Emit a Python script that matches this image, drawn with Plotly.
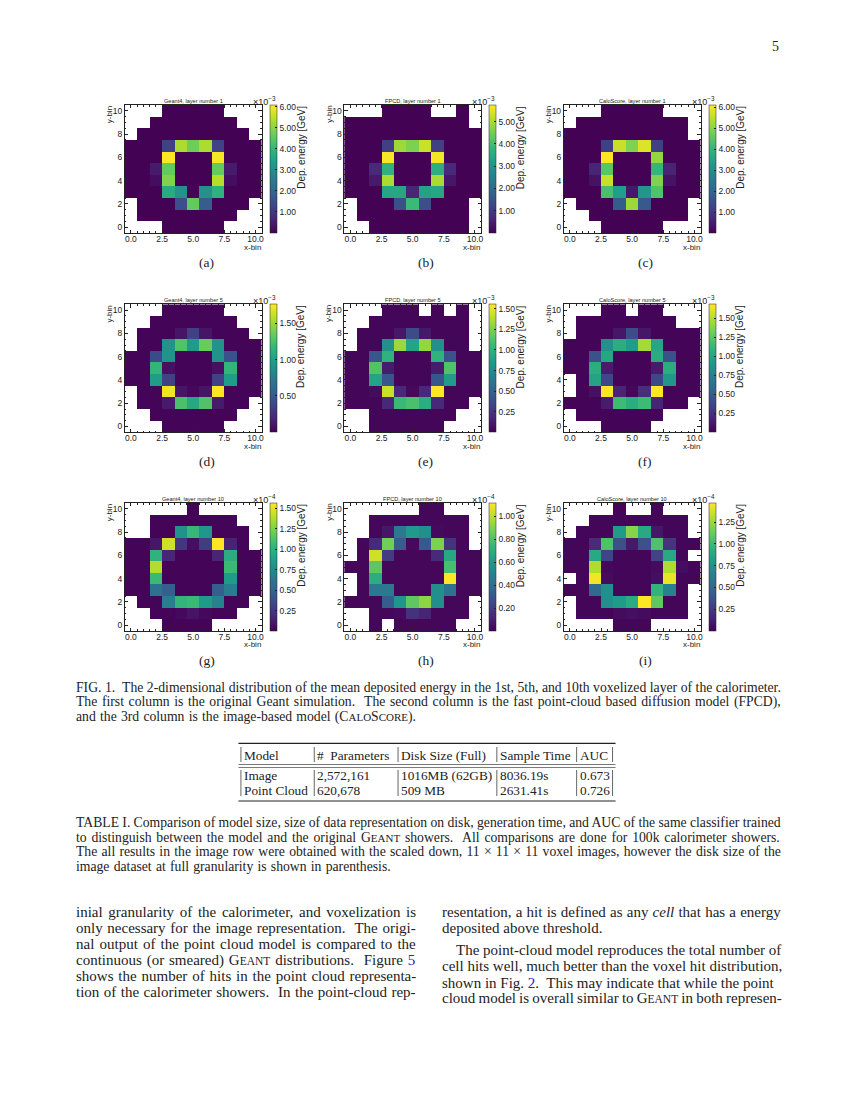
import plotly.graph_objects as go

WIDTH = 850
HEIGHT = 1100
n = None
d = 0.02

X_BINS = list(range(11))
Y_BINS = list(range(10, -1, -1))

# values are in units of the multiplier printed on top of each colour bar, rows go y=10 .. y=0
GEANT_1 = [
    [n, n, n, d, d, d, d, d, n, n, n],
    [n, n, d, d, d, d, d, d, d, n, n],
    [n, d, d, d, d, d, d, d, d, d, n],
    [d, d, d, 1.2, 5.3, 4.7, 5.3, 1.2, d, d, d],
    [d, d, d, 6.08, d, d, d, 6.0, d, d, d],
    [d, d, 0.45, 4.6, d, d, d, 4.6, 0.45, d, d],
    [d, d, 0.2, 4.9, d, d, d, 5.4, 0.2, d, d],
    [d, d, d, 3.7, 3.1, 0.05, 3.1, 3.9, d, d, d],
    [n, d, d, d, 1.5, 4.6, 1.8, d, d, d, n],
    [n, d, d, d, d, d, d, d, d, n, n],
    [n, n, n, d, d, d, d, d, n, n, n],
]
FPCD_1 = [
    [n, n, n, d, d, d, d, n, n, d, n],
    [d, d, d, d, d, d, d, d, d, d, n],
    [d, d, d, d, d, d, d, d, d, d, d],
    [d, d, d, 1.1, 4.9, 4.6, 5.3, 1.1, d, d, d],
    [d, d, d, 5.7, d, d, d, 5.65, d, d, d],
    [d, d, 0.7, 3.7, d, d, d, 3.6, 0.7, d, d],
    [d, d, 0.4, 5.0, d, d, d, 5.0, 0.35, d, d],
    [d, d, d, 3.4, 3.4, 0.6, 3.3, 3.4, d, d, d],
    [n, d, d, d, 1.4, 3.9, 1.4, d, d, d, n],
    [n, d, d, d, d, d, d, d, d, d, n],
    [n, n, d, d, d, d, d, d, d, d, n],
]
CALO_1 = [
    [n, n, n, d, d, d, d, d, n, n, n],
    [n, d, d, d, d, d, d, d, d, d, n],
    [d, d, d, d, d, d, d, d, d, d, n],
    [d, d, d, 1.2, 5.6, 4.9, 5.8, 1.2, d, d, d],
    [d, d, d, 6.1, d, d, d, 5.1, d, d, d],
    [d, d, 0.6, 4.5, d, d, d, 4.0, 0.6, d, d],
    [d, d, 0.3, 5.6, d, d, d, 4.9, 0.3, d, d],
    [d, d, d, 4.3, 3.4, 0.4, 3.2, 4.4, d, d, d],
    [n, d, d, d, 1.8, 5.2, 1.7, d, d, d, n],
    [n, n, d, d, d, d, d, d, d, d, n],
    [n, n, n, d, d, d, d, d, n, n, n],
]
GEANT_5 = [
    [n, n, n, d, d, d, d, d, n, n, n],
    [n, n, d, d, d, d, d, d, d, n, n],
    [n, d, d, d, 0.1, 0.35, 0.1, d, d, d, n],
    [n, d, d, 0.9, 1.27, 0.95, 1.35, 0.9, d, d, d],
    [d, d, 0.4, 0.9, d, d, d, 0.9, 0.45, d, d],
    [d, d, 1.15, 0.08, d, d, d, 0.08, 1.15, d, d],
    [d, d, 0.97, 0.35, d, d, d, 0.35, 0.97, d, d],
    [n, d, d, 1.72, 0.1, 0.04, 0.1, 1.76, d, d, d],
    [n, d, d, 0.13, 1.25, 1.05, 1.27, 0.13, d, d, n],
    [n, n, d, d, d, d, d, d, d, n, n],
    [n, n, n, d, d, d, d, d, n, n, n],
]
FPCD_5 = [
    [n, n, n, d, d, d, n, d, n, d, n],
    [n, n, d, d, d, d, d, d, d, d, n],
    [n, d, d, d, 0.1, 0.35, 0.1, d, d, d, n],
    [n, d, d, 0.78, 1.32, 0.9, 1.3, 0.78, d, d, n],
    [d, d, 0.42, 1.0, d, d, d, 1.0, 0.4, d, d],
    [d, d, 1.12, 0.12, d, d, d, 0.12, 1.12, d, d],
    [d, d, 0.9, 0.42, d, d, d, 0.42, 0.85, d, d],
    [d, d, 0.05, 1.43, 0.18, 0.03, 0.18, 1.55, d, d, d],
    [d, d, d, 0.18, 1.05, 1.1, 0.97, 0.18, d, d, n],
    [n, n, d, d, d, d, d, d, d, n, n],
    [n, n, d, d, d, d, d, d, n, n, n],
]
CALO_5 = [
    [n, n, n, d, d, n, d, d, n, n, n],
    [n, d, d, d, d, d, d, d, d, n, n],
    [n, d, d, d, 0.1, 0.4, 0.1, d, d, d, d],
    [d, d, d, 0.85, 1.05, 0.93, 1.45, 1.0, d, d, d],
    [d, d, 0.42, 1.0, d, d, d, 1.05, 0.42, d, d],
    [d, d, 1.05, 0.13, d, d, d, 0.13, 1.05, d, d],
    [n, d, 0.98, 0.37, d, d, d, 0.37, 0.88, d, d],
    [n, d, 0.07, 1.68, 0.17, 0.03, 0.22, 1.68, d, d, d],
    [d, d, d, 0.13, 1.15, 1.05, 1.15, 0.17, d, d, n],
    [n, d, d, d, d, d, d, d, n, n, n],
    [n, n, n, d, d, d, d, n, n, n, n],
]
GEANT_10 = [
    [n, n, n, n, n, d, n, n, n, n, n],
    [n, n, d, d, d, d, d, d, d, n, n],
    [n, n, d, d, 0.8, 1.05, 0.82, d, d, d, n],
    [d, d, 0.1, 1.45, 0.24, 0.06, 0.28, 1.565, 0.15, d, n],
    [d, d, 1.0, 0.16, d, d, d, 0.16, 0.97, d, d],
    [d, d, 1.38, d, d, d, d, d, 1.06, d, d],
    [d, d, 1.06, d, d, d, d, d, 0.86, d, d],
    [d, d, 0.58, 0.47, d, d, d, 0.47, 0.66, d, d],
    [n, d, d, 0.66, 1.02, 1.06, 0.86, 0.7, d, d, n],
    [n, n, d, d, 0.03, 0.08, 0.03, d, d, n, n],
    [n, n, n, d, d, d, d, n, n, n, n],
]
FPCD_10 = [
    [n, n, n, n, n, n, d, d, n, n, n],
    [n, n, d, d, d, d, d, d, d, d, n],
    [n, n, d, 0.07, 0.45, 0.6, 0.55, 0.03, d, d, n],
    [n, d, 0.13, 0.87, 0.33, 0.03, 0.31, 0.89, 0.17, d, n],
    [n, d, 1.03, 0.2, d, d, d, 0.13, 0.67, d, d],
    [d, d, 0.83, d, d, d, d, d, 0.78, d, d],
    [n, d, 0.69, d, d, d, d, d, 1.11, d, d],
    [n, d, 0.45, 0.45, d, d, d, 0.55, 0.42, d, d],
    [d, d, d, 0.33, 0.58, 0.83, 0.92, 0.55, d, d, n],
    [n, n, d, d, 0.03, 0.16, 0.11, d, d, d, n],
    [n, n, d, n, d, d, d, d, d, n, n],
]
CALO_10 = [
    [n, n, n, n, d, n, n, d, n, n, n],
    [n, n, d, d, d, d, d, d, d, d, n],
    [n, d, d, d, 0.8, 1.2, 0.88, 0.09, d, d, n],
    [d, d, 0.18, 1.05, 0.37, 0.1, 0.37, 1.05, 0.22, d, d],
    [d, d, 0.88, 0.3, d, d, d, 0.3, 0.88, d, n],
    [d, d, 1.29, 0.03, d, d, d, 0.04, 1.29, 0.05, d],
    [n, d, 1.44, 0.04, d, d, d, 0.06, 1.42, d, d],
    [d, d, 0.5, 0.73, d, d, d, 0.95, 0.66, d, n],
    [n, d, d, 0.73, 0.8, 0.9, 1.47, 1.1, d, d, n],
    [n, d, d, d, 0.04, 0.06, 0.04, d, d, d, n],
    [n, n, n, n, d, d, d, n, n, n, n],
]

PANELS = [GEANT_1, FPCD_1, CALO_1, GEANT_5, FPCD_5, CALO_5, GEANT_10, FPCD_10, CALO_10]
MODELS = ["Geant4", "FPCD", "CaloScore"]
LAYERS = [1, 5, 10]
EXPONENTS = ["\u22123", "\u22123", "\u22124"]
Z_MAX = [6.08, 5.75, 6.1, 1.76, 1.555, 1.686, 1.565, 1.113, 1.468]
CBAR_TICKS = [
    [1, 2, 3, 4, 5, 6],
    [1, 2, 3, 4, 5],
    [1, 2, 3, 4, 5, 6],
    [0.5, 1.0, 1.5],
    [0.25, 0.5, 0.75, 1.0, 1.25, 1.5],
    [0.25, 0.5, 0.75, 1.0, 1.25, 1.5],
    [0.25, 0.5, 0.75, 1.0, 1.25, 1.5],
    [0.2, 0.4, 0.6, 0.8, 1.0],
    [0.25, 0.5, 0.75, 1.0, 1.25],
]
SUB_LABELS = ["(a)", "(b)", "(c)", "(d)", "(e)", "(f)", "(g)", "(h)", "(i)"]
X_TICKS = [0, 2.5, 5, 7.5, 10]
X_TICK_TEXT = ["0.0", "2.5", "5.0", "7.5", "10.0"]
Y_TICKS = [0, 2, 4, 6, 8, 10]

TABLE_HEADER = ["Model", "#  Parameters", "Disk Size (Full)", "Sample Time", "AUC"]
TABLE_IMAGE = ["Image", "2,572,161", "1016MB (62GB)", "8036.19s", "0.673"]
TABLE_POINT = ["Point Cloud", "620,678", "509 MB", "2631.41s", "0.726"]


def sc(word, size=11):
    return f'{word[0]}<span style="font-size:{size}px">{word[1:].upper()}</span>'


def blue(text):
    return f'<span style="fill:#2020c0">{text}</span>'


CAPTION_FIG = [
    "FIG. 1.  The 2-dimensional distribution of the mean deposited energy in the 1st, 5th, and 10th voxelized layer of the calorimeter.",
    "The first column is the original Geant simulation.  The second column is the fast point-cloud based diffusion model (FPCD),",
    f"and the 3rd column is the image-based model ({sc('Calo')}{sc('Score')}).",
]
CAPTION_TABLE = [
    "TABLE I. Comparison of model size, size of data representation on disk, generation time, and AUC of the same classifier trained",
    f"to distinguish between the model and the original {sc('Geant')} showers.  All comparisons are done for 100k calorimeter showers.",
    "The all results in the image row were obtained with the scaled down, 11 \u00d7 11 \u00d7 11 voxel images, however the disk size of the",
    "image dataset at full granularity is shown in parenthesis.",
]
BODY_LEFT = [
    "inial granularity of the calorimeter, and voxelization is",
    "only necessary for the image representation.  The origi-",
    "nal output of the point cloud model is compared to the",
    f"continuous (or smeared) {sc('Geant', 11.5)} distributions.  Figure {blue('5')}",
    "shows the number of hits in the point cloud representa-",
    "tion of the calorimeter showers.  In the point-cloud rep-",
]
BODY_RIGHT = [
    "resentation, a hit is defined as any <i>cell</i> that has a energy",
    "deposited above threshold.",
    "The point-cloud model reproduces the total number of",
    "cell hits well, much better than the voxel hit distribution,",
    f"shown in Fig. {blue('2')}.  This may indicate that while the point",
    f"cloud model is overall similar to {sc('Geant', 11.5)} in both represen-",
]

PANEL_LEFTS = [125, 345, 565]
PANEL_TOPS = [105, 304.3, 503]
PANEL_W = 137.3
PANEL_H = 128
SANS = "Liberation Sans"
SERIF = "Liberation Serif"
INK = "#222222"


def px(x):
    return x / WIDTH


def py(y):
    return 1 - y / HEIGHT


annotations = []


def note(x, y, text, size, family=SERIF, xanchor="left", yanchor="middle", angle=0, color=INK, spacing=0):
    if spacing:
        # stretches the gaps between words, the page is justified
        text = f'<span style="word-spacing:{spacing}px">{text}</span>'
    annotations.append(
        dict(
            x=px(x),
            y=py(y),
            xref="paper",
            yref="paper",
            text=text,
            showarrow=False,
            xanchor=xanchor,
            yanchor=yanchor,
            textangle=angle,
            borderpad=0,
            font=dict(family=family, size=size, color=color),
        )
    )


fig = go.Figure()
layout_axes = {}

for i, z in enumerate(PANELS):
    row, col = divmod(i, 3)
    left = PANEL_LEFTS[col]
    top = PANEL_TOPS[row]
    suffix = "" if i == 0 else str(i + 1)
    fig.add_trace(
        go.Heatmap(
            z=z,
            x=X_BINS,
            y=Y_BINS,
            xaxis=f"x{suffix}",
            yaxis=f"y{suffix}",
            zmin=0,
            zmax=Z_MAX[i],
            colorscale="Viridis",
            hoverongaps=False,
            colorbar=dict(
                x=px(left + PANEL_W + 8),
                xanchor="left",
                xpad=0,
                y=py(top),
                yanchor="top",
                ypad=0,
                len=PANEL_H / HEIGHT,
                lenmode="fraction",
                thickness=6.5,
                thicknessmode="pixels",
                outlinewidth=0.5,
                outlinecolor=INK,
                tickvals=CBAR_TICKS[i],
                tickformat=".2f",
                ticks="inside",
                ticklen=2,
                tickwidth=0.5,
                tickcolor=INK,
                tickfont=dict(family=SANS, size=8.5, color=INK),
            ),
        )
    )
    axis_style = dict(
        showline=True,
        linecolor=INK,
        linewidth=0.7,
        mirror="allticks",
        ticks="inside",
        ticklen=3.5,
        tickwidth=0.5,
        tickcolor=INK,
        showgrid=False,
        zeroline=False,
        tickfont=dict(family=SANS, size=8.5, color=INK),
        minor=dict(ticks="inside", ticklen=1.8, tickwidth=0.4, tickcolor=INK, dtick=0.5, tick0=0),
    )
    layout_axes[f"xaxis{suffix}"] = dict(
        domain=[px(left), px(left + PANEL_W)],
        anchor=f"y{suffix}",
        range=[-0.5, 10.5],
        tickvals=X_TICKS,
        ticktext=X_TICK_TEXT,
        ticklabelstandoff=-2,
        **axis_style,
    )
    layout_axes[f"yaxis{suffix}"] = dict(
        domain=[py(top + PANEL_H), py(top)],
        anchor=f"x{suffix}",
        range=[-0.5, 10.5],
        tickvals=Y_TICKS,
        **axis_style,
    )
    note(left + PANEL_W / 2, top - 4, f"{MODELS[col]}, layer number {LAYERS[row]}", 5.6, SANS, "center")
    note(left + PANEL_W + 15, top - 4, f"\u00d710<sup>{EXPONENTS[row]}</sup>", 9, SANS, "right")
    note(left + PANEL_W, top + PANEL_H + 14, "x-bin", 8, SANS, "right")
    note(left - 15, top, "y-bin", 8, SANS, "center", "top", -90)
    note(left + 177, top, "Dep. energy [GeV]", 10, SANS, "center", "top", -90)
    note(left + 82, top + 157.5, SUB_LABELS[i], 13.5, SERIF, "center")

note(777, 46, "5", 14, SERIF, "center")

for y, line, gap in zip([687, 702, 717], CAPTION_FIG, [0.1, 1.2, 0.8]):
    note(75, y, line, 13.7, spacing=gap)
for y, line, gap in zip([822, 837, 851, 866], CAPTION_TABLE, [-0.1, 1.4, 0.8, 0.8]):
    note(75, y, line, 13.7, spacing=gap)
for y, line, gap in zip([912, 928, 944, 960, 976, 992], BODY_LEFT, [1.9, 0.9, 1.4, 1.1, 1.1, 0.7]):
    note(75, y, line, 15, spacing=gap)
for x, y, line, gap in zip(
    [442, 442, 456, 442, 442, 442], [912, 928, 950, 966, 983, 998], BODY_RIGHT, [0.45, 0, 0, 0, 0, -0.6]
):
    note(x, y, line, 15, spacing=gap)

# table text and rules
COL_X = [244, 317, 401, 500, 580]
for x, a, b, c in zip(COL_X, TABLE_HEADER, TABLE_IMAGE, TABLE_POINT):
    note(x, 755, a, 13.3)
    note(x, 775.7, b, 13.3)
    note(x, 790, c, 13.3)

shapes = []
for y, w in [(743.3, 1.2), (764.5, 0.6), (767.5, 0.6), (801, 1.2)]:
    shapes.append(
        dict(type="line", xref="paper", yref="paper", x0=px(239), x1=px(617), y0=py(y), y1=py(y),
             line=dict(color=INK, width=w))
    )
for x in [241.5, 315, 399, 498, 578, 614]:
    for y0, y1 in [(747, 762), (770, 796)]:
        shapes.append(
            dict(type="line", xref="paper", yref="paper", x0=px(x), x1=px(x), y0=py(y0), y1=py(y1),
                 line=dict(color=INK, width=0.7))
        )

fig.update_layout(
    width=WIDTH,
    height=HEIGHT,
    margin=dict(l=0, r=0, t=0, b=0),
    paper_bgcolor="#ffffff",
    plot_bgcolor="#ffffff",
    annotations=annotations,
    shapes=shapes,
    **layout_axes,
)

fig.write_html(
    "out.html",
    config={"displayModeBar": False},
    post_script="document.body.style.margin='0';",
)
